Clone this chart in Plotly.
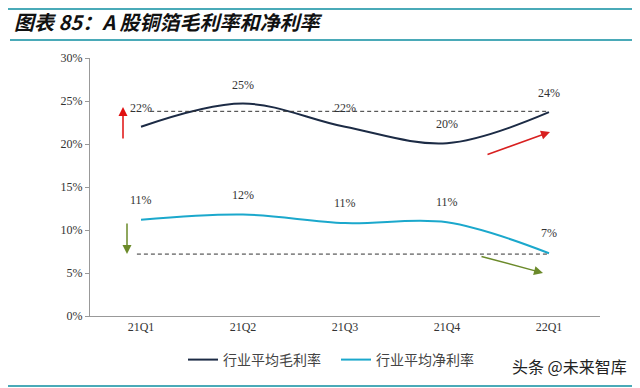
import plotly.graph_objects as go

quarters = ["21Q1", "21Q2", "21Q3", "21Q4", "22Q1"]
gross_margin = [22.0, 24.7, 22.0, 20.1, 23.7]
net_margin = [11.2, 11.8, 10.8, 10.9, 7.3]
gross_labels = ["22%", "25%", "22%", "20%", "24%"]
net_labels = ["11%", "12%", "11%", "11%", "7%"]
gross_ref = 23.8
net_ref = 7.2
y_ticks = [0, 5, 10, 15, 20, 25, 30]
y_tick_text = ["0%", "5%", "10%", "15%", "20%", "25%", "30%"]

NAVY = "#1c2b45"
CYAN = "#1ba8cc"
TEAL = "#4aaab8"
SERIF = "Liberation Serif, DejaVu Serif, serif"
CJK = "Noto Sans CJK SC"

# page body margin offset (screen px = figure px + OFF)
OFF = 8
W, H = 640.0, 388.0

fig = go.Figure()
fig.add_trace(go.Scatter(x=quarters, y=gross_margin, mode="lines", name="行业平均毛利率",
                         line=dict(color=NAVY, width=2, shape="spline", smoothing=1.0)))
fig.add_trace(go.Scatter(x=quarters, y=net_margin, mode="lines", name="行业平均净利率",
                         line=dict(color=CYAN, width=2, shape="spline", smoothing=1.0)))

annotations = []
for q, v, t in zip(quarters, gross_margin, gross_labels):
    annotations.append(dict(x=q, y=v, text=t, showarrow=False, yshift=19,
                            font=dict(family=SERIF, size=12, color="#333")))
for q, v, t in zip(quarters, net_margin, net_labels):
    annotations.append(dict(x=q, y=v, text=t, showarrow=False, yshift=20,
                            font=dict(family=SERIF, size=12, color="#333")))

# screen-pixel -> plot-domain coordinates (plot area on screen: x 90..600, y 58..316)
def px(xp):
    return (xp - 90) / 510
def py(yp):
    return (316 - yp) / 258
# screen-pixel -> container coordinates
def cx(xp):
    return (xp - OFF) / W
def cy(yp):
    return 1 - (yp - OFF) / H

arrows = [
    ((123, 140), (123, 107), "#e01010"),
    ((486, 155), (550, 132), "#d82020"),
    ((127, 222), (127, 254), "#6b8a2a"),
    ((480, 256), (543, 273), "#6b8a2a"),
]
for (x0, y0), (x1, y1), c in arrows:
    annotations.append(dict(xref="x domain", yref="y domain", x=px(x1), y=py(y1),
                            ax=px(x0), ay=py(y0), axref="x domain", ayref="y domain",
                            showarrow=True, arrowhead=2, arrowsize=1.2, arrowwidth=1.5,
                            arrowcolor=c, text=""))

annotations.append(dict(xref="paper", yref="paper", x=px(13), y=py(22), xanchor="left", yanchor="middle",
                        text="<b><i>图表 85：A 股铜箔毛利率和净利率 </i></b>", showarrow=False,
                        borderpad=0, font=dict(family=CJK, size=20, color="#111")))
annotations.append(dict(xref="paper", yref="paper", x=px(629), y=py(366), xanchor="right", yanchor="middle",
                        text="头条 @未来智库", showarrow=False,
                        font=dict(family=CJK, size=16, color="#222")))
fig.update_layout(annotations=annotations)

shapes = [
    dict(type="line", xref="x", yref="y", x0=0.09, x1=4, y0=gross_ref, y1=gross_ref,
         line=dict(color="#333", width=1, dash="4px,3px")),
    dict(type="line", xref="x", yref="y", x0=-0.04, x1=4, y0=net_ref, y1=net_ref,
         line=dict(color="#333", width=1, dash="4px,3px")),
    dict(type="line", xref="paper", yref="paper", x0=px(OFF), x1=px(640), y0=py(OFF + 1), y1=py(OFF + 1),
         line=dict(color=TEAL, width=2)),
    dict(type="line", xref="paper", yref="paper", x0=px(10), x1=px(640), y0=py(40), y1=py(40),
         line=dict(color=TEAL, width=2)),
    dict(type="line", xref="paper", yref="paper", x0=px(OFF), x1=px(640), y0=py(386), y1=py(386),
         line=dict(color=TEAL, width=2)),
]
fig.update_layout(shapes=shapes)

fig.update_layout(
    width=int(W), height=int(H),
    margin=dict(l=90 - OFF, r=int(W) - (600 - OFF), t=58 - OFF, b=int(H) - (316 - OFF)),
    paper_bgcolor="white", plot_bgcolor="white",
    showlegend=True,
    legend=dict(orientation="h", xref="container", yref="container",
                x=cx(183), xanchor="left", y=cy(360), yanchor="middle",
                font=dict(family=CJK, size=14, color="#444"), entrywidth=108,
                entrywidthmode="pixels"),
    xaxis=dict(range=[-0.5, 4.5], showgrid=False, showline=True, linecolor="#999", linewidth=1,
               ticks="", tickfont=dict(family=SERIF, size=12, color="#333"), fixedrange=True,
               automargin=False),
    yaxis=dict(range=[0, 30], tickvals=y_ticks, ticktext=y_tick_text, showgrid=False,
               showline=True, linecolor="#999", linewidth=1, ticks="outside", ticklen=4,
               tickcolor="#999", zeroline=False, automargin=False,
               tickfont=dict(family=SERIF, size=12, color="#333")),
)

fig.write_html("out.html")
